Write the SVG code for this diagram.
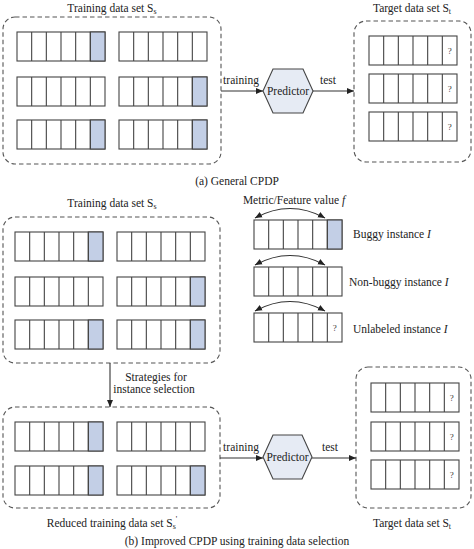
<svg xmlns="http://www.w3.org/2000/svg" xmlns:xlink="http://www.w3.org/1999/xlink" width="474" height="549" viewBox="0 0 474 549" font-family="'Liberation Serif', 'DejaVu Serif', serif">
<style>
text{font-family:'Liberation Serif','DejaVu Serif',serif;font-size:11.5px;fill:#222}
.c{text-anchor:middle}
.r{fill:#fff;stroke:#444;stroke-width:1.1}
.l{fill:none;stroke:#444;stroke-width:1.1}
.box{fill:none;stroke:#555;stroke-width:1.1;stroke-dasharray:4.5,3}
.hex{fill:#e6ebf4;stroke:#444;stroke-width:1.1}
.conn{fill:none;stroke:#333;stroke-width:1.1}
.sub{font-size:8px}
.q{font-size:9px;fill:#333}
</style>
<defs>
<marker id="ah" markerWidth="8" markerHeight="8" refX="7" refY="4" orient="auto" markerUnits="userSpaceOnUse"><path d="M0,1 L7,4 L0,7 z" fill="#222"/></marker>
<marker id="ahs" markerWidth="8" markerHeight="8" refX="1" refY="4" orient="auto" markerUnits="userSpaceOnUse"><path d="M8,1 L1,4 L8,7 z" fill="#222"/></marker>
<g id="rec"><rect width="88" height="29" class="r"/><path class="l" d="M14.67 0v29M29.33 0v29M44 0v29M58.67 0v29M73.33 0v29"/></g>
<g id="recB"><rect width="88" height="29" class="r"/><rect x="73.33" width="14.67" height="29" fill="#c3cfe6" stroke="#444" stroke-width="1.1"/><path class="l" d="M14.67 0v29M29.33 0v29M44 0v29M58.67 0v29M73.33 0v29"/></g>
<g id="recQ"><use xlink:href="#rec"/><text x="80.7" y="17.5" class="c q">?</text></g>
</defs>

<g id="train-a">
<text x="112" y="12" class="c">Training data set S<tspan class="sub" dy="2">s</tspan></text>
<rect x="3" y="17" width="218" height="147" rx="12" class="box"/>
<use xlink:href="#recB" x="17" y="32"/><use xlink:href="#rec" x="119" y="32"/>
<use xlink:href="#rec" x="17" y="77"/><use xlink:href="#recB" x="119" y="77"/>
<use xlink:href="#recB" x="17" y="120"/><use xlink:href="#recB" x="119" y="120"/>
</g>
<g id="predictor-a">
<polygon points="263,91 273,69 303,69 313,91 303,113 273,113" class="hex"/>
<text x="288" y="95" class="c">Predictor</text>
</g>
<g id="target-a">
<text x="412" y="12" class="c">Target data set S<tspan class="sub" dy="2">t</tspan></text>
<rect x="354" y="21" width="117" height="141" rx="12" class="box"/>
<use xlink:href="#recQ" x="369" y="36"/>
<use xlink:href="#recQ" x="369" y="74"/>
<use xlink:href="#recQ" x="369" y="112"/>
</g>
<text x="237" y="185" class="c">(a)  General CPDP</text>

<g id="train-b">
<text x="112" y="207" class="c">Training data set S<tspan class="sub" dy="2">s</tspan></text>
<rect x="3" y="217" width="217" height="146" rx="12" class="box"/>
<use xlink:href="#recB" x="15" y="232"/><use xlink:href="#rec" x="117" y="232"/>
<use xlink:href="#rec" x="15" y="277"/><use xlink:href="#recB" x="117" y="277"/>
<use xlink:href="#recB" x="15" y="320"/><use xlink:href="#recB" x="117" y="320"/>
</g>
<g id="legend">
<text x="294" y="204" class="c">Metric/Feature value <tspan font-style="italic">f</tspan></text>
<use xlink:href="#recB" x="254" y="220"/>
<text x="353" y="238">Buggy instance <tspan font-style="italic">I</tspan></text>
<use xlink:href="#rec" x="254" y="267"/>
<text x="349" y="286">Non-buggy instance <tspan font-style="italic">I</tspan></text>
<use xlink:href="#recQ" x="254" y="313"/>
<text x="353" y="333">Unlabeled instance <tspan font-style="italic">I</tspan></text>
</g>
<g id="reduced-b">
<rect x="3" y="407" width="217" height="101" rx="12" class="box"/>
<use xlink:href="#recB" x="15" y="422"/><use xlink:href="#rec" x="117" y="422"/>
<use xlink:href="#recB" x="15" y="466"/><use xlink:href="#recB" x="117" y="466"/>
<text x="112" y="527" class="c">Reduced training data set S<tspan class="sub" dy="2">s</tspan><tspan class="sub" dy="-7">'</tspan></text>
</g>
<g id="predictor-b">
<polygon points="263,457 273,435 302,435 312,457 302,479 273,479" class="hex"/>
<text x="287.5" y="461" class="c">Predictor</text>
</g>
<g id="target-b">
<rect x="356" y="367" width="115" height="141" rx="12" class="box"/>
<use xlink:href="#recQ" x="371" y="383"/>
<use xlink:href="#recQ" x="371" y="422"/>
<use xlink:href="#recQ" x="371" y="460"/>
<text x="412" y="527" class="c">Target data set S<tspan class="sub" dy="2">t</tspan></text>
</g>
<text x="237" y="545" class="c">(b)  Improved CPDP using training data selection</text>

<g id="connectors">
<path d="M221,91 H263" class="conn" marker-end="url(#ah)"/>
<text x="241" y="84" class="c">training</text>
<path d="M313,91 H354" class="conn" marker-end="url(#ah)"/>
<text x="328" y="84" class="c">test</text>
<path d="M110,363 V407" class="conn" marker-end="url(#ah)"/>
<text x="156" y="381" class="c">Strategies for</text>
<text x="154" y="393" class="c">instance selection</text>
<path d="M220,458 H263" class="conn" marker-end="url(#ah)"/>
<text x="241" y="451" class="c">training</text>
<path d="M312,458 H356" class="conn" marker-end="url(#ah)"/>
<text x="330" y="451" class="c">test</text>
<path d="M255,218 Q290,199 325,218" class="conn" marker-start="url(#ahs)" marker-end="url(#ah)"/>
<path d="M255,265 Q290,246 325,265" class="conn" marker-start="url(#ahs)" marker-end="url(#ah)"/>
<path d="M255,311 Q290,292 325,311" class="conn" marker-start="url(#ahs)" marker-end="url(#ah)"/>
</g>
</svg>
